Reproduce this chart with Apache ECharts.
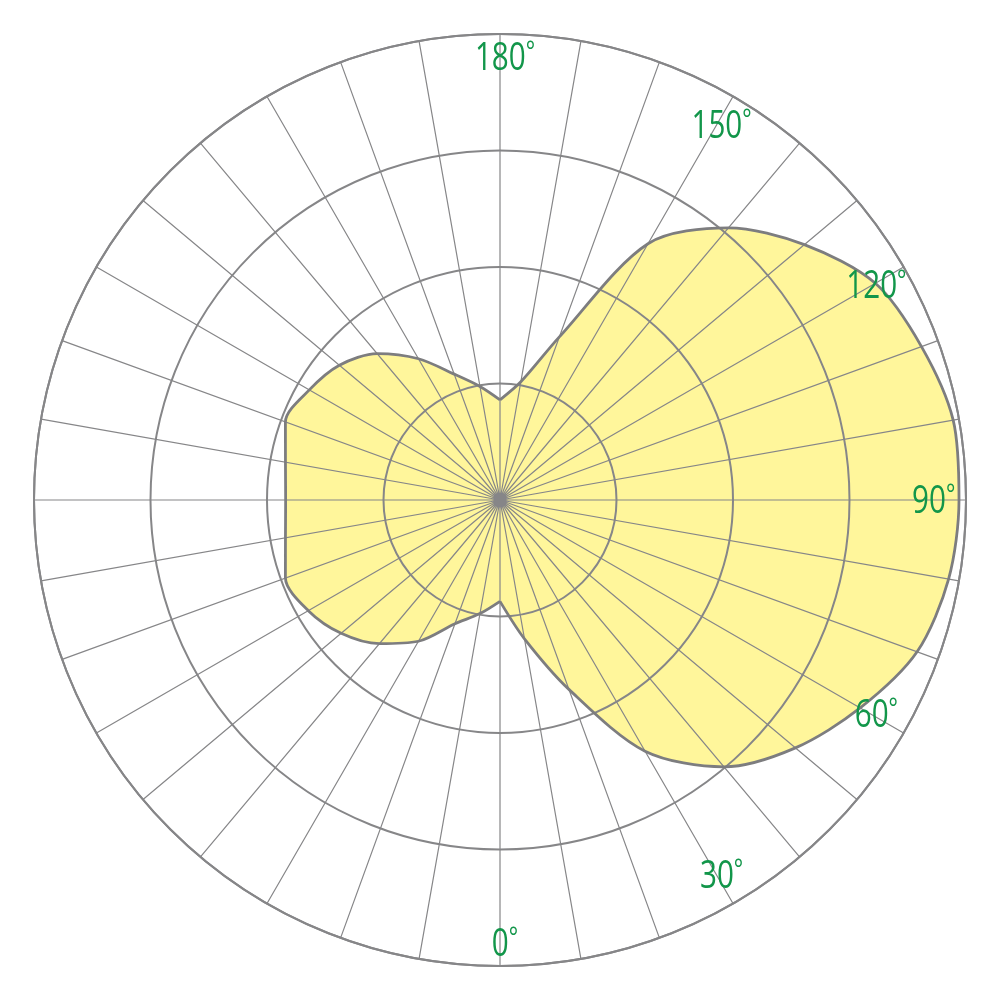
<!DOCTYPE html>
<html>
<head>
<meta charset="utf-8">
<script src="https://cdn.jsdelivr.net/npm/echarts@6/dist/echarts.min.js"></script>
<style>
  html, body { margin: 0; padding: 0; background: #fff; }
  #main { width: 1000px; height: 1000px; }
</style>
</head>
<body>
<div id="main"></div>
<script>
// 配光曲线 (light distribution), values in ring units (4 rings)
const angles = [0, 10, 20, 30, 40, 50, 60, 70, 80, 90, 100, 110, 120, 130, 140, 150, 160, 170,
  180, 190, 200, 210, 220, 230, 240, 250, 260, 270, 280, 290, 300, 310, 320, 330, 340, 350]
const intensity = [0.87, 1.21, 1.73, 2.49, 2.99, 3.31, 3.57, 3.81, 3.91, 3.94, 3.95, 3.85, 3.72, 3.41, 3.05, 2.54, 1.49, 1.03,
  0.86, 0.99, 1.15, 1.40, 1.64, 1.80, 1.89, 1.96, 1.87, 1.84, 1.87, 1.96, 1.90, 1.78, 1.61, 1.40, 1.13, 0.99]
const labelAngles = [0, 30, 60, 90, 120, 150, 180]
const ringMax = 4

const gridColor = '#868688'
const green = '#12964a'
const fillColor = '#fff69b'
const edgeColor = '#7d7d7f'

const chart = echarts.init(document.getElementById('main'))

// two halves so the notches at 0° and 180° stay sharp
const points = angles.map((a, i) => [intensity[i], a])
const rightHalf = points.filter(p => p[1] <= 180)
const leftHalf = points.filter(p => p[1] >= 180).concat([[intensity[0], 360]])

const makeSeries = (data) => [
  {
    type: 'line',
    coordinateSystem: 'polar',
    data: data,
    smooth: 0.3,
    showSymbol: false,
    z: 1,
    lineStyle: { width: 0 },
    areaStyle: { color: fillColor, opacity: 1 }
  },
  {
    type: 'line',
    coordinateSystem: 'polar',
    data: data,
    smooth: 0.3,
    showSymbol: false,
    z: 5,
    lineStyle: { color: edgeColor, width: 2.8 }
  }
]

chart.setOption({
  animation: false,
  polar: { center: ['50%', '50%'], radius: 466 },
  angleAxis: {
    type: 'value',
    min: 0,
    max: 360,
    interval: 10,
    startAngle: 270,
    clockwise: false,
    z: 3,
    axisLine: { lineStyle: { color: gridColor, width: 2 } },
    axisTick: { show: false },
    axisLabel: { show: false },
    splitLine: { lineStyle: { color: gridColor, width: 1.2 } }
  },
  radiusAxis: {
    type: 'value',
    min: 0,
    max: ringMax,
    interval: 1,
    z: 3,
    axisLine: { show: false },
    axisTick: { show: false },
    axisLabel: { show: false },
    splitLine: { lineStyle: { color: gridColor, width: 2 } }
  },
  series: makeSeries(rightHalf).concat(makeSeries(leftHalf))
})

// angle labels, placed through the polar coordinate system
const labels = labelAngles.map(a => {
  const c = Math.abs(Math.cos(a * Math.PI / 180))
  const r = 3.68 + 0.12 * Math.pow(c, 8)
  const p = chart.convertToPixel({ seriesIndex: 0 }, [r, a])
  return {
    type: 'text',
    x: p[0] + 5,
    y: p[1] + 2,
    scaleX: 0.78,
    z: 10,
    style: {
      text: '{n|' + a + '}{d|°}',
      align: 'center',
      verticalAlign: 'middle',
      rich: {
        n: { fontFamily: 'Open Sans', fontSize: 38, fill: green, lineHeight: 40 },
        d: { fontFamily: 'Open Sans', fontSize: 28, fill: green, verticalAlign: 'top', lineHeight: 40 }
      }
    }
  }
})
chart.setOption({ graphic: labels })
</script>
</body>
</html>
